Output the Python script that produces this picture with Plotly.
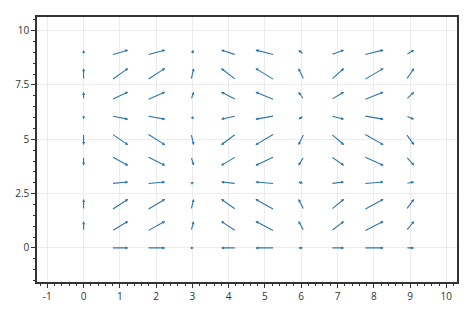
import plotly.graph_objects as go

# grid positions
x_vals = [0, 1, 2, 3, 4, 5, 6, 7, 8, 9]
y_vals = [0, 1, 2, 3, 4, 5, 6, 7, 8, 9]
# horizontal component for each column (x) and vertical component for each row (y)
u_by_x = [0.00, 0.84, 0.91, 0.14, -0.76, -0.96, -0.28, 0.66, 0.99, 0.41]
v_by_y = [0.00, 0.84, 0.91, 0.14, -0.76, -0.96, -0.28, 0.66, 0.99, 0.41]

x_ticks = [-1, 0, 1, 2, 3, 4, 5, 6, 7, 8, 9, 10]
y_ticks = [0, 2.5, 5, 7.5, 10]

scale = 0.55
color = "rgb(45,118,172)"

fig = go.Figure()
# invisible trace to set up axes
fig.add_trace(go.Scatter(x=[x_vals[0], x_vals[-1]], y=[y_vals[0], y_vals[-1]],
                         mode="markers", marker=dict(opacity=0), hoverinfo="skip",
                         showlegend=False))

annotations = []
for i, xv in enumerate(x_vals):
    for j, yv in enumerate(y_vals):
        u = u_by_x[i]
        v = v_by_y[j]
        if u == 0 and v == 0:
            continue
        annotations.append(dict(
            x=xv + u * scale / 2, y=yv + v * scale / 2,
            ax=xv - u * scale / 2, ay=yv - v * scale / 2,
            xref="x", yref="y", axref="x", ayref="y",
            text="", showarrow=True, arrowhead=2, arrowsize=0.55,
            arrowwidth=1.1, arrowcolor=color, standoff=0, startstandoff=0,
        ))

axis_common = dict(
    showgrid=True, gridcolor="#ececec", gridwidth=1, zeroline=False,
    showline=True, linecolor="#333", linewidth=1.5, mirror=True,
    ticks="outside", ticklen=4, tickcolor="#333", tickwidth=1,
    tickfont=dict(family="Open Sans", size=10, color="#333"),
)

fig.update_layout(
    width=474, height=316,
    margin=dict(l=37, r=17, t=17, b=34),
    paper_bgcolor="white", plot_bgcolor="white",
    showlegend=False,
    annotations=annotations,
    xaxis=dict(range=[-1.285, 10.295], tickmode="array", tickvals=x_ticks,
               ticktext=[str(t) for t in x_ticks],
               minor=dict(dtick=0.2, ticks="outside", ticklen=2.5, tickcolor="#333", showgrid=False),
               **axis_common),
    yaxis=dict(range=[-1.57, 10.63], tickmode="array", tickvals=y_ticks,
               ticktext=[str(t) for t in y_ticks],
               minor=dict(dtick=0.5, ticks="outside", ticklen=2.5, tickcolor="#333", showgrid=False),
               **axis_common),
)

fig.write_html("out.html")
